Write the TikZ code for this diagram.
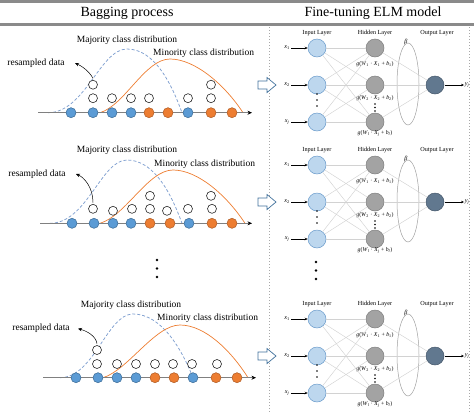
\documentclass[tikz,border=0pt]{standalone}
\usepackage{fontspec}
\setmainfont{Liberation Serif}
\usetikzlibrary{arrows.meta,shapes.geometric}
\definecolor{bluefill}{HTML}{5B9BD5}
\definecolor{bluedraw}{HTML}{41719C}
\definecolor{orgfill}{HTML}{ED7D31}
\definecolor{orgdraw}{HTML}{B5612A}
\definecolor{majcol}{HTML}{7F9FD0}
\definecolor{infill}{HTML}{BDD7EE}
\definecolor{indraw}{HTML}{6A9BCB}
\definecolor{hidfill}{HTML}{A3A3A3}
\definecolor{hiddraw}{HTML}{7F7F7F}
\definecolor{outfill}{HTML}{61788F}
\definecolor{outdraw}{HTML}{46586B}
\definecolor{linkcol}{HTML}{D2D2D2}
\definecolor{rulecol}{HTML}{8A8A8A}
\definecolor{sepcol}{HTML}{A8A8A8}
\newcommand\vi[1]{\textit{#1}}
\newcommand\gfun[3]{\vi{g}(\vi{W}\textsubscript{#1} · \vi{X}\textsubscript{#2} + \vi{b}\textsubscript{#3})}
\newcommand\nnpanel[2]{%
  \node[laytxt] (#1tin) at (317,#2-15) {Input Layer};
  \node[laytxt] (#1thid) at (375,#2-15) {Hidden Layer};
  \node[laytxt] (#1tout) at (437,#2-15) {Output Layer};
  \node[inn] (#1i1) at (317,#2) {};
  \node[inn] (#1i2) at (317,#2+37) {};
  \node[inn] (#1i3) at (317,#2+74) {};
  \node[hid] (#1h1) at (375,#2) {};
  \node[hid] (#1h2) at (375,#2+37) {};
  \node[hid] (#1h3) at (375,#2+74) {};
  \node[outn] (#1o) at (435,#2+37) {};
  \node[ell] (#1e) at (408,#2+36) {};
  \node[laytxt] (#1b) at (406,#2-6) {\vi{β}};
  \node[laytxt] (#1x1) at (287,#2) {\vi{x}\textsubscript{1}};
  \node[laytxt] (#1x2) at (287,#2+37) {\vi{x}\textsubscript{2}};
  \node[laytxt] (#1x3) at (287,#2+74) {\vi{x}\textsubscript{\vi{j}}};
  \node[laytxt] (#1y) at (467,#2+37) {\vi{y}\textsubscript{\vi{j}}};
  \node[glab] (#1g1) at (375,#2+16.5) {\gfun{1}{1}{1}};
  \node[glab] (#1g2) at (375,#2+50.5) {\gfun{2}{2}{2}};
  \node[glab] (#1g3) at (375,#2+85.5) {\gfun{\vi{l}}{\vi{j}}{\vi{l}}};
  \node[vdot] (#1d1) at (317,#2+46) {};
  \node[vdot] (#1d2) at (317,#2+52) {};
  \node[vdot] (#1d3) at (317,#2+58) {};
  \node[vdot] (#1d4) at (375,#2+56) {};
  \node[vdot] (#1d5) at (375,#2+59.5) {};
  \node[vdot] (#1d6) at (375,#2+63) {};
  \foreach \a in {1,2,3}{\foreach \b in {1,2,3}{\draw[link] (#1i\a) -- (#1h\b);}}
  \foreach \b in {1,2,3}{\draw[link] (#1h\b) -- (#1o);}
  \foreach \a in {1,2,3}{\draw[smallarrow] (#1x\a) -- (#1i\a);}
  \draw[smallarrow] (#1o) -- (#1y);
  \draw[blk] (258,#2+33) -- (267,#2+33) -- (267,#2+29.5) -- (276,#2+37)
     -- (267,#2+44.5) -- (267,#2+41) -- (258,#2+41) -- cycle;
}
\begin{document}
\begin{tikzpicture}[x=1pt,y=-1pt,
  bdot/.style={circle,minimum size=10pt,inner sep=0pt,fill=bluefill,draw=bluedraw,line width=0.6pt},
  odot/.style={circle,minimum size=10pt,inner sep=0pt,fill=orgfill,draw=orgdraw,line width=0.6pt},
  wdot/.style={circle,minimum size=9pt,inner sep=0pt,fill=white,draw=black!85,line width=0.6pt},
  lbl/.style={font=\fontsize{9.5}{11}\selectfont,inner sep=0pt},
  head/.style={font=\fontsize{14}{16}\selectfont,inner sep=0pt},
  axisline/.style={draw=gray,line width=0.9pt,-{Stealth[black,length=4.5pt,width=4pt]}},
  majc/.style={draw=majcol,line width=0.75pt,dash pattern=on 3pt off 2pt},
  minc/.style={draw=orgfill,line width=0.7pt},
  resarrow/.style={line width=0.5pt,-{Stealth[length=4pt,width=3.5pt]}},
  inn/.style={circle,minimum size=18pt,inner sep=0pt,fill=infill,draw=indraw,line width=0.5pt},
  hid/.style={circle,minimum size=18pt,inner sep=0pt,fill=hidfill,draw=hiddraw,line width=0.5pt},
  outn/.style={circle,minimum size=18pt,inner sep=0pt,fill=outfill,draw=outdraw,line width=0.5pt},
  link/.style={draw=linkcol,line width=0.45pt},
  laytxt/.style={font=\fontsize{6.2}{7}\selectfont,inner sep=0.5pt},
  glab/.style={font=\fontsize{5.8}{6.5}\selectfont,inner sep=0pt},
  ell/.style={ellipse,draw=gray!75,minimum width=22pt,minimum height=82pt,inner sep=0pt,line width=0.5pt},
  blk/.style={draw=bluedraw,fill=white,line width=0.7pt,line join=miter},
  vdot/.style={circle,fill=black,inner sep=0pt,minimum size=1.8pt},
  smallarrow/.style={line width=0.5pt,shorten <=1pt,-{Stealth[length=3pt,width=2.5pt]}},
  sepline/.style={draw=sepcol,line width=0.8pt,dash pattern=on 1pt off 2pt}
]
\useasboundingbox (0,0) rectangle (474,413);
% header
\draw[rulecol,line width=2.6pt] (0,1.3) -- (474,1.3);
\draw[rulecol,line width=2.8pt] (0,24.3) -- (474,24.3);
\node[head] (th1) at (127,13) {Bagging process};
\node[head] (th2) at (373,13) {Fine-tuning ELM model};
% separators
\draw[sepline] (269,27) -- (269,413);
\draw[sepline] (469,27) -- (469,413);

% ---------- bagging panel 1
\begin{scope}[shift={(0,112.7)}]
  \draw[majc] (48,0) .. controls (85,0) and (100,-63.7) .. (127,-63.7)
      .. controls (155,-63.7) and (172,-27.7) .. (182,0);
  \draw[minc] (100,0) .. controls (125,-7.7) and (145,-53.7) .. (170,-53.7)
      .. controls (195,-53.7) and (225,-27.7) .. (243,0);
  \draw[axisline] (38,0) -- (252,0);
  \foreach \x/\s in {71/bdot,93/bdot,112/bdot,131/bdot,149/odot,168/odot,188/bdot,211/odot,232/odot}
    \node[\s] (pa\x) at (\x,0) {};
  \foreach \x in {93,112,131,149,188,211} \node[wdot] (pb\x) at (\x,-14.5) {};
  \foreach \x in {93,211} \node[wdot] (pc\x) at (\x,-28) {};
  \node[lbl] (pmaj) at (127,-72.7) {Majority class distribution};
  \node[lbl,anchor=west] (pmin) at (153,-59.7) {Minority class distribution};
  \node[lbl] (pres) at (36,-49.7) {resampled data};
  \coordinate (ptip) at (75,-49.7);
  \draw[resarrow] ([yshift=1.5pt]pc93.north) .. controls (89,-42) and (81,-47) .. (ptip);
\end{scope}

% ---------- bagging panel 2
\begin{scope}[shift={(1,223.3)}]
  \draw[majc] (49,0) .. controls (86,0) and (100,-63.3) .. (126,-63.3)
      .. controls (154,-63.3) and (171,-27.5) .. (181,0);
  \draw[minc] (99,0) .. controls (125,-7.7) and (147,-53.3) .. (172,-53.3)
      .. controls (197,-53.3) and (226,-27.5) .. (244,0);
  \draw[axisline] (39,0) -- (251,0);
  \foreach \x/\s in {71/bdot,93/bdot,112/bdot,130/bdot,149/odot,169/odot,188/bdot,211/odot,231/odot}
    \node[\s] (qa\x) at (\x,0) {};
  \foreach \x/\h in {92/-14.5,112/-12.5,131/-14.5,149/-14.5,166/-12.5,187/-14.5,211/-14.5}
    \node[wdot] (qb\x) at (\x,\h) {};
  \foreach \x in {149,210} \node[wdot] (qc\x) at (\x,-27.5) {};
  \node[lbl] (qmaj) at (126,-73.3) {Majority class distribution};
  \node[lbl,anchor=west] (qmin) at (153,-59.3) {Minority class distribution};
  \node[lbl] (qres) at (36,-49.3) {resampled data};
  \coordinate (qtip) at (75,-49.3);
  \draw[resarrow] ([yshift=1.5pt]qb92.north) .. controls (92,-36) and (83,-46) .. (qtip);
\end{scope}

% ---------- bagging panel 3
\begin{scope}[shift={(5,377.7)}]
  \draw[majc] (55,0) .. controls (89,0) and (102,-63.7) .. (128,-63.7)
      .. controls (157,-63.7) and (177,-27.7) .. (188,0);
  \draw[minc] (98,0) .. controls (123,-7.7) and (150,-52.7) .. (175,-52.7)
      .. controls (200,-52.7) and (226,-27) .. (243,0);
  \draw[axisline] (38,0) -- (251,0);
  \foreach \x/\s in {71/bdot,93/bdot,112/bdot,131/bdot,150/odot,169/odot,188/bdot,211/odot,232/odot}
    \node[\s] (ra\x) at (\x,0) {};
  \foreach \x in {92,112,131,150,168,187,212} \node[wdot] (rb\x) at (\x,-13.7) {};
  \foreach \x in {92} \node[wdot] (rc\x) at (\x,-27.7) {};
  \node[lbl] (rmaj) at (126,-72.7) {Majority class distribution};
  \node[lbl,anchor=west] (rmin) at (152,-59.7) {Minority class distribution};
  \node[lbl] (rres) at (36,-49.7) {resampled data};
  \coordinate (rtip) at (73,-49);
  \draw[resarrow] ([yshift=1.5pt]rc92.north) .. controls (91,-42) and (81,-47) .. (rtip);
\end{scope}

% vertical ellipsis dots
\foreach \y [count=\i] in {260,268.5,277} \node[vdot,minimum size=2.8pt] (ldot\i) at (157,\y) {};
\foreach \y [count=\i] in {262,270.5,279} \node[vdot,minimum size=2.8pt] (rdot\i) at (316,\y) {};

% ---------- ELM panels
\nnpanel{na}{48}
\nnpanel{nb}{165}
\nnpanel{nc}{319}
\end{tikzpicture}
\end{document}
